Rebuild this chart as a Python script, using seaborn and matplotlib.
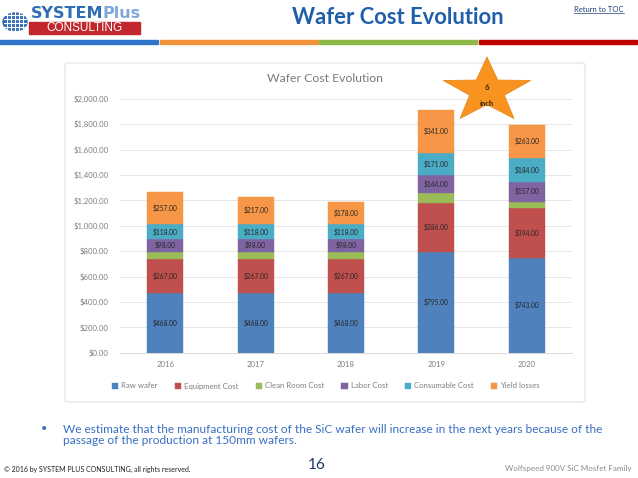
import matplotlib
matplotlib.use("Agg")
import matplotlib.pyplot as plt
from matplotlib.patches import Rectangle, Polygon, Circle, FancyBboxPatch
from matplotlib.lines import Line2D
import numpy as np
import pandas as pd
import seaborn as sns

years = ["2016", "2017", "2018", "2019", "2020"]
series = ["Raw wafer", "Equipment Cost", "Clean Room Cost", "Labor Cost", "Consumable Cost", "Yield losses"]
raw_wafer = [468, 468, 468, 795, 743]
equipment = [267, 267, 267, 386, 394]
clean_room = [60, 60, 60, 74, 52]
labor = [98, 98, 98, 144, 157]
consumable = [118, 118, 118, 171, 184]
yield_losses = [257, 217, 178, 341, 263]
y_ticks = [0, 200, 400, 600, 800, 1000, 1200, 1400, 1600, 1800, 2000]

colors = ["#4F81BD", "#C0504D", "#9BBB59", "#8064A2", "#4BACC6", "#F79646"]
values = [raw_wafer, equipment, clean_room, labor, consumable, yield_losses]

sns.set_theme(style="white")
plt.rcParams['font.family'] = ['Lato', 'DejaVu Sans']

W, H = 638, 478
fig = plt.figure(figsize=(W / 100, H / 100), dpi=100)
fig.patch.set_facecolor("white")


def px(x, y):
    return (x / W, 1 - y / H)


# --- slide header ---
glob = Circle(px(15, 22), 12 / W, transform=fig.transFigure, color="#2F6DB5", zorder=2)
fig.patches.append(glob)
for gx in [7, 11, 15, 19, 23]:
    fig.lines.append(Line2D([gx / W, gx / W], [1 - 11 / H, 1 - 33 / H], transform=fig.transFigure,
                            color="white", lw=0.8, zorder=3))
for gy in [15, 19, 23, 27, 31]:
    fig.lines.append(Line2D([4 / W, 26 / W], [1 - gy / H, 1 - gy / H], transform=fig.transFigure,
                            color="white", lw=0.8, zorder=3))
fig.text(*px(31, 13), "SYSTEM", transform=fig.transFigure, fontsize=11.5, fontweight="bold",
         color="#2F6DB5", va="center", ha="left", family=["Liberation Sans Narrow", "DejaVu Sans"])
fig.text(*px(141, 13), "Plus", transform=fig.transFigure, fontsize=11.5, fontweight="bold",
         color="#7FA7D8", va="center", ha="right", family=["Liberation Sans Narrow", "DejaVu Sans"])
fig.patches.append(Rectangle(px(29, 34), 111 / W, 12 / H, transform=fig.transFigure,
                             color="#C1272D", zorder=2))
fig.text(*px(84.5, 28), "CONSULTING", transform=fig.transFigure, fontsize=8.5,
         color="white", va="center", ha="center", zorder=3, family=["Liberation Sans", "DejaVu Sans"])

fig.text(*px(398, 18), "Wafer Cost Evolution", transform=fig.transFigure, fontsize=15.8,
         fontweight="bold", color="#1F5FAA", ha="center", va="center")
fig.text(*px(599, 9), "Return to TOC", transform=fig.transFigure, fontsize=5.5,
         color="#1F3F7A", ha="center", va="center")
fig.lines.append(Line2D([574 / W, 624 / W], [1 - 13 / H, 1 - 13 / H], transform=fig.transFigure,
                        color="#1F3F7A", lw=0.5))

bar_cols = ["#2E75C9", "#F0923A", "#8DB84A", "#C00000"]
for i, c in enumerate(bar_cols):
    fig.patches.append(Rectangle(px(i * 159.5, 44), 158 / W, 4 / H, transform=fig.transFigure,
                                 color=c, zorder=2))

# --- chart panel ---
panel = FancyBboxPatch(px(65, 402), 520 / W, 339 / H, boxstyle="round,pad=0,rounding_size=0.004",
                       transform=fig.transFigure, facecolor="white", edgecolor="#E3E3E3", lw=0.8,
                       zorder=-5)
fig.patches.append(panel)

ax = fig.add_axes([120 / W, 1 - 352.7 / H, 452 / W, 254 / H])
ax.set_zorder(1)
ax.set_facecolor("none")

df = pd.DataFrame({"year": years})
bottom = np.zeros(len(years))
for name, vals, col in zip(series, values, colors):
    vals = np.array(vals, dtype=float)
    sns.barplot(x=df["year"], y=vals, bottom=bottom, color=col, width=0.4,
                errorbar=None, ax=ax, saturation=1, label=name, zorder=3,
                edgecolor=col, linewidth=0.3)
    if name != "Clean Room Cost":
        for i, v in enumerate(vals):
            ax.text(i, bottom[i] + v / 2, f"${v:,.2f}", ha="center", va="center",
                    fontsize=4.8, color="#262626", zorder=4)
    bottom += vals

ax.set_ylim(0, 2000)
ax.set_xlim(-0.5, 4.5)
ax.set_yticks(y_ticks)
ax.set_yticklabels([f"${v:,.2f}" for v in y_ticks], fontsize=5.6, color="#7F7F7F")
ax.tick_params(axis="x", labelsize=5.6, labelcolor="#7F7F7F", length=0, pad=6)
ax.tick_params(axis="y", length=0, pad=8)
ax.set_xlabel("")
ax.set_ylabel("")
ax.grid(axis="y", color="#E6E6E6", lw=0.7, zorder=0)
ax.set_axisbelow(True)
for s in ["top", "right", "left"]:
    ax.spines[s].set_visible(False)
ax.spines["bottom"].set_color("#D9D9D9")
ax.spines["bottom"].set_linewidth(0.7)
if ax.get_legend() is not None:
    ax.get_legend().remove()

fig.text(*px(325, 78), "Wafer Cost Evolution", transform=fig.transFigure, fontsize=8.8,
         color="#7A7A7A", ha="center", va="center")

handles, labels = ax.get_legend_handles_labels()
leg = fig.legend(handles[:6], labels[:6], loc="center", bbox_to_anchor=px(326, 386), ncol=6,
                 frameon=False, fontsize=5.6, handlelength=0.8, handleheight=0.8,
                 columnspacing=2.2, handletextpad=0.4)
for t in leg.get_texts():
    t.set_color("#7F7F7F")

# star
cx, cy, R, r, sx = 487, 91, 34, 13.5, 1.35
pts = []
for k in range(10):
    ang = np.deg2rad(90 + k * 36)
    rad = R if k % 2 == 0 else r
    pts.append(px(cx + sx * rad * np.cos(ang), cy - rad * np.sin(ang)))
fig.patches.append(Polygon(pts, closed=True, transform=fig.transFigure, facecolor="#F7931E",
                           edgecolor="#E88A1A", lw=0.6, zorder=5))
fig.text(*px(487, 88), "6", transform=fig.transFigure, fontsize=5.5, color="#3A2A10",
         fontweight="bold", ha="center", va="center", zorder=6)
fig.text(*px(487, 104), "inch", transform=fig.transFigure, fontsize=5.5, color="#3A2A10",
         fontweight="bold", ha="center", va="center", zorder=6)

# bullet text
fig.text(*px(44, 428), "•", transform=fig.transFigure, fontsize=8, color="#3A6FC4",
         ha="center", va="center")
fig.text(*px(63, 435), "We estimate that the manufacturing cost of the SiC wafer will increase in the next years because of the\npassage of the production at 150mm wafers.",
         transform=fig.transFigure, fontsize=8.6, color="#3A6FC4", ha="left", va="center",
         linespacing=1.1)

# footer
fig.text(*px(4, 469), "© 2016 by SYSTEM PLUS CONSULTING, all rights reserved.", transform=fig.transFigure,
         fontsize=5, color="#222222", ha="left", va="center")
fig.text(*px(317, 465), "16", transform=fig.transFigure, fontsize=11, color="#1F3864",
         ha="center", va="center")
fig.text(*px(632, 469), "Wolfspeed 900V SiC Mosfet Family", transform=fig.transFigure, fontsize=5.8,
         color="#8C8C8C", ha="right", va="center")

fig.savefig("out.png", dpi=100)
